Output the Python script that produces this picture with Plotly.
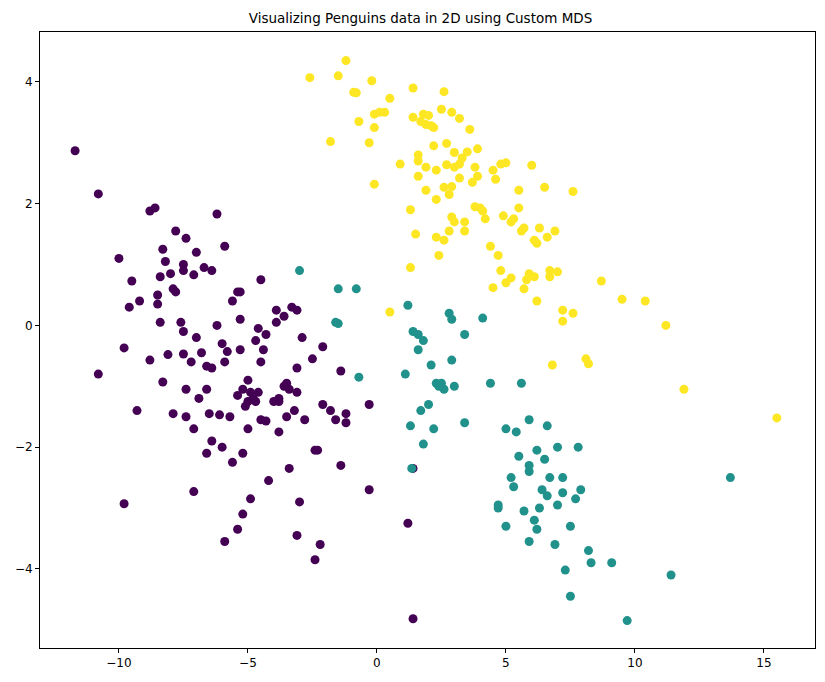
import plotly.graph_objects as go

# cluster 0 (purple)
x0 = [-11.7, -10.8, -10.8, -10.0, -9.8, -9.8, -9.5, -9.6, -9.3, -9.2, -8.8, -8.6, -8.8, -8.5, -8.5, -8.4, -8.3, -8.4, -8.3, -8.2,
      -8.1, -8.0, -7.9, -7.9, -7.8, -7.8, -7.6, -7.5, -7.5, -7.4, -7.5, -7.5, -7.4, -7.2, -7.1, -7.0, -7.0, -7.1, -7.1, -6.8,
      -6.7, -6.6, -6.6, -6.5, -6.6, -6.4, -6.4, -6.4, -6.2, -6.2, -6.1, -6.0, -6.0, -5.9, -5.9, -5.8, -5.7, -5.6, -5.6, -5.4,
      -5.3, -5.3, -5.4, -5.2, -5.2, -5.3, -5.1, -5.0, -5.0, -5.0, -4.7, -4.8, -4.7, -4.6, -4.6, -4.5, -4.5, -4.5, -4.4, -4.3,
      -4.2, -4.0, -3.9, -3.9, -3.8, -3.8, -3.6, -3.6, -3.5, -3.4, -3.4, -3.3, -3.2, -3.1, -3.1, -3.1, -3.0, -3.1, -2.9, -2.8,
      -2.5, -2.4, -2.4, -2.3, -2.2, -2.1, -2.1, -1.8, -1.6, -1.4, -1.4, -1.2, -1.2, -0.3, -0.3, 1.2, 1.4, 1.4, -4.9, -5.2,
      -5.4, -5.9, -4.3, -4.9, -3.5, -3.8, -6.9, -7.4]
y0 = [2.87, 2.16, -0.8, 1.1, -0.37, -2.93, 0.73, 0.3, -1.4, 0.4, 1.88, 1.93, -0.57, 0.35, 0.5, 0.8, 1.25, 0.05, -0.93, 1.05,
      -0.48, 0.85, -1.45, 0.6, 1.55, 0.55, 0.05, 1.0, 0.9, 1.43, -0.1, -0.47, -1.5, -0.6, 0.83, 1.2, -0.2, -1.7, -2.73, -0.45,
      0.95, -0.67, -2.1, -1.45, -1.05, -0.7, 0.9, -1.9, 1.83, 0.0, -1.47, -0.3, -2.0, -0.6, 1.3, -0.43, -1.5, -2.25, 0.4, 0.55,
      0.55, 0.1, -1.15, -1.05, -2.1, -0.4, -1.33, -0.9, -1.25, -1.7, -1.25, -1.2, -0.25, -0.05, -1.1, -0.6, -1.55, 0.75, -0.4, -0.15,
      -2.55, -1.25, 0.25, 0.05, -1.2, -1.75, -1.0, 0.15, -1.5, -1.05, -2.35, 0.3, -1.4, 0.25, -1.1, -0.7, -2.9, -3.45, -0.2, -1.55,
      -0.55, -2.05, -3.85, -2.05, -3.6, -1.3, -0.35, -1.4, -1.55, -0.75, -2.3, -1.6, -1.45, -1.3, -2.7, -3.25, -4.82, -2.35, -2.85, -3.1,
      -3.35, -3.55, -1.57, -1.1, -0.95, -1.25, -1.2, -1.05]

# cluster 1 (teal)
x1 = [-3.0, -1.5, -0.8, -1.6, -1.5, -0.7, 1.1, 1.2, 1.3, 1.4, 1.6, 1.6, 1.8, 1.7, 1.8, 2.0, 2.1, 2.2, 2.3, 2.4,
      2.5, 2.6, 2.8, 2.9, 2.9, 3.0, 3.4, 3.4, 4.1, 4.4, 4.7, 4.7, 5.0, 5.0, 5.2, 5.3, 5.4, 5.5, 5.6, 5.7,
      5.9, 5.9, 5.9, 5.9, 6.1, 6.2, 6.2, 6.3, 6.4, 6.5, 6.6, 6.6, 6.7, 6.9, 7.0, 7.0, 7.2, 7.2, 7.3, 7.5,
      7.5, 7.7, 7.8, 7.9, 8.2, 8.3, 9.1, 9.7, 11.4, 13.7, 1.35]
y1 = [0.9, 0.6, 0.6, 0.05, 0.03, -0.85, -0.8, 0.33, -1.65, -0.1, -0.15, -0.4, -0.25, -1.4, -1.95, -1.3, -0.65, -1.7, -0.95, -1.0,
      -0.95, -1.05, 0.2, 0.1, -0.57, -1.0, -0.15, -1.6, 0.12, -0.95, -2.95, -3.0, -1.7, -3.3, -2.5, -2.65, -1.75, -2.15, -0.95, -3.05,
      -1.55, -2.3, -2.4, -3.55, -3.2, -2.05, -3.35, -3.0, -2.7, -2.2, -2.8, -1.65, -2.5, -3.6, -2.95, -2.0, -2.75, -2.5, -4.02, -4.45,
      -3.3, -2.85, -2.0, -2.7, -3.7, -3.9, -3.9, -4.85, -4.1, -2.5, -2.35]

# cluster 2 (yellow)
x2 = [-2.6, -1.5, -0.9, -0.8, -0.7, -1.8, -0.3, -0.1, -0.2, -0.1, -0.1, 0.1, 0.3, 0.5, -1.2, 0.5, 0.9, 1.3, 1.4, 1.4,
      1.5, 1.6, 1.6, 1.6, 1.7, 1.8, 1.9, 1.9, 1.9, 2.0, 2.1, 2.2, 2.2, 2.3, 2.3, 2.4, 2.5, 2.6, 2.6, 2.6,
      2.7, 2.7, 2.8, 2.8, 2.9, 2.9, 2.9, 3.0, 3.0, 3.0, 3.2, 3.2, 3.2, 3.3, 3.4, 3.5, 3.6, 3.7, 3.8, 3.8,
      3.9, 3.9, 4.0, 4.1, 4.2, 4.4, 4.5, 4.5, 4.6, 4.7, 4.8, 4.8, 4.9, 5.0, 5.0, 5.2, 5.2, 5.3, 5.5, 5.5,
      5.6, 5.7, 5.7, 5.8, 5.9, 6.0, 6.1, 6.1, 6.2, 6.2, 6.3, 6.5, 6.6, 6.7, 6.7, 6.8, 6.9, 7.0, 7.2, 7.2,
      7.6, 7.6, 8.1, 8.2, 8.7, 9.5, 10.4, 11.2, 11.9, 15.5, 1.3, 2.3, 3.4]
y2 = [4.07, 4.1, 3.83, 3.82, 3.35, 3.02, 3.0, 3.47, 4.02, 3.25, 2.32, 3.5, 3.5, 3.73, 4.35, 0.22, 2.65, 1.9, 3.42, 3.9,
      1.5, 2.8, 2.7, 2.45, 3.35, 3.47, 3.3, 2.6, 2.22, 3.45, 3.28, 3.25, 2.95, 2.55, 2.07, 1.15, 3.55, 3.84, 2.27, 1.4,
      2.99, 2.64, 2.15, 1.55, 2.28, 1.78, 3.5, 1.7, 2.84, 2.6, 3.4, 2.65, 2.42, 2.75, 1.55, 2.85, 3.22, 2.35, 1.95, 2.6,
      2.45, 2.9, 1.93, 1.88, 1.75, 1.3, 2.55, 0.62, 2.4, 1.15, 0.9, 2.65, 1.8, 0.7, 2.67, 1.7, 0.78, 1.75, 2.22, 1.93,
      1.55, 1.6, 0.6, 0.75, 0.85, 2.63, 1.4, 0.8, 1.35, 0.4, 1.6, 2.27, 1.45, 0.9, 0.8, -0.65, 1.55, 0.88, 0.25, 0.07,
      0.2, 2.2, -0.55, -0.63, 0.73, 0.43, 0.4, 0.0, -1.05, -1.52, 0.95, 1.45, 1.7]

clusters = [(x0, y0, "#440154"), (x1, y1, "#21918c"), (x2, y2, "#fde725")]

fig = go.Figure()
for xs, ys, col in clusters:
    fig.add_trace(go.Scatter(x=xs, y=ys, mode="markers",
                             marker=dict(color=col, size=9, line=dict(width=0))))

axis_style = dict(showgrid=False, zeroline=False, showline=True, linecolor="black",
                  mirror=True, ticks="outside", ticklen=4, tickcolor="black",
                  automargin=False, tickfont=dict(size=12, color="black"))
fig.update_xaxes(range=[-13.06, 16.98], tickvals=[-10, -5, 0, 5, 10, 15], **axis_style)
fig.update_yaxes(range=[-5.3, 4.82], tickvals=[-4, -2, 0, 2, 4], **axis_style)
# the page body adds an 8px offset, so margins are shifted to compensate
fig.update_layout(
    width=825, height=682,
    title=dict(text="Visualizing Penguins data in 2D using Custom MDS", x=0.5, y=0.985,
               xanchor="center", yanchor="middle", automargin=False,
               font=dict(size=13.5, color="black")),
    font=dict(family="DejaVu Sans"),
    paper_bgcolor="white", plot_bgcolor="white",
    showlegend=False,
    margin=dict(l=32, r=18, t=24, b=42),
)
fig.write_html("out.html")
